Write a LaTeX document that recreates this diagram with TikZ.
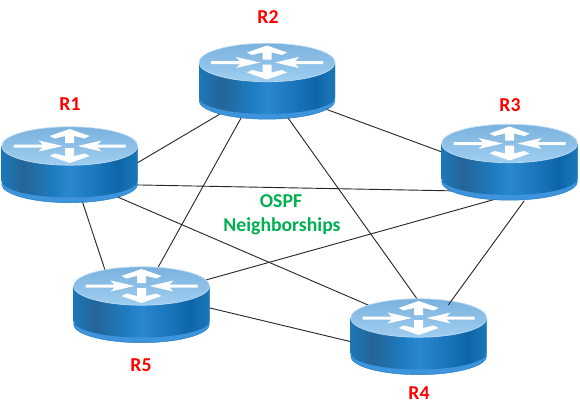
\documentclass[tikz,border=0pt]{standalone}
\usepackage{fontspec}
\setmainfont{Carlito}
\usepackage{tikz}
\usetikzlibrary{arrows.meta, positioning}
\definecolor{labelred}{RGB}{255, 0, 0}
\definecolor{labelgreen}{RGB}{0, 176, 80}
\definecolor{rimblue}{RGB}{62, 148, 220}
\definecolor{rimedge}{RGB}{30, 120, 190}
\definecolor{topblue}{RGB}{122, 178, 222}
\definecolor{toplight}{RGB}{160, 206, 240}
\definecolor{bodyedge}{RGB}{28, 120, 184}
\definecolor{bodydark}{RGB}{36, 100, 152}
\definecolor{bodymid}{RGB}{30, 124, 192}
\definecolor{bodylight}{RGB}{42, 136, 208}
\definecolor{bodydeep}{RGB}{14, 102, 168}
\pgfdeclarehorizontalshading{routerbody}{100bp}{
  color(0bp)=(bodyedge);
  color(25bp)=(bodyedge);
  color(33bp)=(bodydark);
  color(44bp)=(bodymid);
  color(50bp)=(bodylight);
  color(68bp)=(bodydeep);
  color(75bp)=(bodyedge);
  color(100bp)=(bodyedge)}
\tikzset{
  routerbox/.style={inner sep=0pt, minimum size=1pt},
  routerlabel/.style={font=\fontsize{14}{16}\selectfont\bfseries, text=labelred},
  ospflabel/.style={font=\fontsize{14}{16}\selectfont\bfseries, text=labelgreen},
  link/.style={line width=0.65pt, black!85},
  router/.pic={
    % Rim and body
    \fill[rimblue] (-68,38) -- (-68,0) -- (68,0) -- (68,38) arc[start angle=0, end angle=180, x radius=68, y radius=18.7] -- cycle;
    \shade[shading=routerbody] (-68,35) -- (-68,0) -- (68,0) -- (68,35) arc[start angle=0, end angle=180, x radius=68, y radius=16.5] -- cycle;
    \draw[rimedge, line width=0.3pt] (-68,38) arc[start angle=180, end angle=0, x radius=68, y radius=18.7];
    % Top
    \shade[top color=topblue, bottom color=toplight, draw=rimblue!35!white, line width=0.5pt] (0,0) ellipse[x radius=68, y radius=19.2];
    % Arrows
    \fill[white] (0,-17) -- (20,-10) -- (15,-7.5) -- (4.5,-10) -- (4.5,-3) -- (-4.5,-3) -- (-4.5,-10) -- (-15,-7.5) -- (-20,-10) -- cycle;
    \fill[white] (0,17) -- (20,10) -- (15,7.5) -- (4.5,10) -- (4.5,2) -- (-4.5,2) -- (-4.5,10) -- (-15,7.5) -- (-20,10) -- cycle;
    \fill[white] (-7,0) -- (-31,-5.5) -- (-27,-1.5) -- (-56,-1.5) -- (-56,1.5) -- (-27,1.5) -- (-31,5.5) -- cycle;
    \fill[white] (8,0) -- (32,-5.5) -- (28,-1.5) -- (56,-1.5) -- (56,1.5) -- (28,1.5) -- (32,5.5) -- cycle;
  }
}
\begin{document}
\begin{tikzpicture}[x=0.025cm, y=-0.025cm]
  \useasboundingbox (0, 0) rectangle (580, 415);

  % Router positions
  \node[routerbox] (R1) at (69.7, 146) {};
  \node[routerbox] (R2) at (267, 62.5) {};
  \node[routerbox] (R3) at (509.5, 143.5) {};
  \node[routerbox] (R4) at (418.7, 318) {};
  \node[routerbox] (R5) at (141.5, 286) {};

  % Links
  \draw[link] ([shift={(58.3,22.4)}]R1.center) -- ([shift={(-39,46.8)}]R2.center);
  \draw[link] ([shift={(60.3,38.8)}]R1.center) -- ([shift={(-49.5,47.5)}]R3.center);
  \draw[link] ([shift={(40.3,47.7)}]R1.center) -- ([shift={(-43.7,-10)}]R4.center);
  \draw[link] ([shift={(11.3,51.6)}]R1.center) -- ([shift={(-34.5,-10)}]R5.center);
  \draw[link] ([shift={(45,41.5)}]R2.center) -- ([shift={(-59.5,11.5)}]R3.center);
  \draw[link] ([shift={(17,49.8)}]R2.center) -- ([shift={(1.3,-15)}]R4.center);
  \draw[link] ([shift={(-24,52)}]R2.center) -- ([shift={(12.5,-11.3)}]R5.center);
  \draw[link] ([shift={(-4.5,53)}]R3.center) -- ([shift={(56.5,-3.8)}]R5.center);
  \draw[link] ([shift={(58.5,19.6)}]R5.center) -- ([shift={(-60.7,25.4)}]R4.center);

  % Routers
  \pic at (R1) {router};
  \pic at (R2) {router};
  \pic at (R3) {router};
  \pic at (R4) {router};
  \pic at (R5) {router};

  % This one stops on top of R4
  \draw[link] ([shift={(14.8,57.2)}]R3.center) -- ([shift={(29.6,-13)}]R4.center);

  % Labels
  \node[routerlabel] (R1label) at (70, 104) {R1};
  \node[routerlabel] (R2label) at (268, 17) {R2};
  \node[routerlabel] (R3label) at (510, 105) {R3};
  \node[routerlabel] (R4label) at (419, 393) {R4};
  \node[routerlabel] (R5label) at (141, 365) {R5};
  \node[ospflabel] (ospf) at (281, 201) {OSPF};
  \node[ospflabel] (neighbors) at (282, 226) {Neighborships};
\end{tikzpicture}
\end{document}
